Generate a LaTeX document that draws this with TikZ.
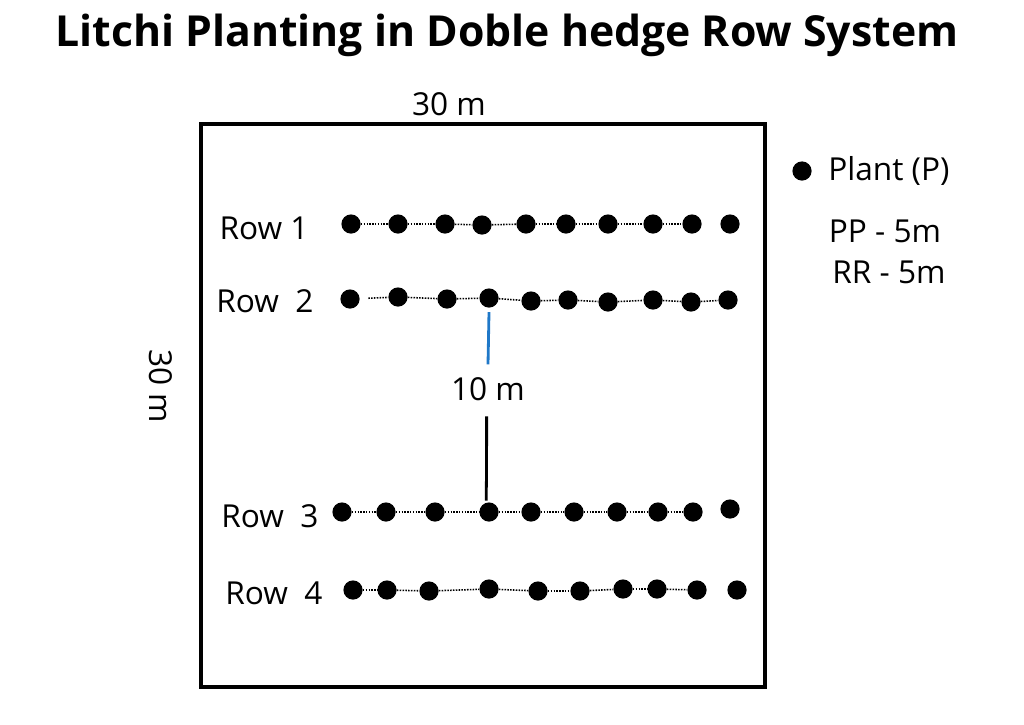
\documentclass[tikz,border=0pt]{standalone}
\usepackage{fontspec}
\setmainfont{Open Sans}
\begin{document}
\begin{tikzpicture}[x=0.025cm,y=-0.025cm,
    plant/.style={circle,fill=black,inner sep=0pt,minimum size=0.48cm},
    hedge/.style={line width=1.1pt,dash pattern=on 1.1pt off 0.9pt},
    txt/.style={font=\fontsize{22.5}{27}\selectfont,inner sep=0pt}]
  \useasboundingbox (0,0) rectangle (1024,724);
  % --- title and field ---
  \node[font=\bfseries\fontsize{30.4}{36}\selectfont] (title) at (507,35) {Litchi Planting in Doble hedge Row System};
  \draw[line width=2.2pt] (201,124) rectangle (765,687);
  \node[txt] (top) at (449,104) {30 m};
  \node[txt,rotate=-90] (side) at (161,386) {30 m};
  % --- row 1 ---
  \node[txt] (l1) at (264,228) {Row 1};
  \foreach \x/\y [count=\i] in {351/224,398/224,445/224,482/225,526/224,566/224,608/224,653/224,692/224,730/224}
    \node[plant] (a\i) at (\x,\y) {};
  \foreach \i [evaluate=\i as \j using int(\i+1)] in {1,...,8} \draw[hedge] (a\i) -- (a\j);
  % --- row 2 ---
  \node[txt] (l2) at (265,301) {Row\ \ 2};
  \foreach \x/\y [count=\i] in {350/299,398/297,447/299,489/298,531/301,568/300,608/302,653/300,691/302,728/300}
    \node[plant] (b\i) at (\x,\y) {};
  \draw[hedge,shorten <=6pt] (b1) -- (b2);
  \foreach \i [evaluate=\i as \j using int(\i+1)] in {2,...,9} \draw[hedge] (b\i) -- (b\j);
  % --- row 3 ---
  \node[txt] (l3) at (270,516) {Row\ \ 3};
  \foreach \x/\y [count=\i] in {342/512,386/512,435/512,489/512,531/512,574/512,617/512,658/512,693/512,730/509}
    \node[plant] (c\i) at (\x,\y) {};
  \foreach \i [evaluate=\i as \j using int(\i+1)] in {1,...,8} \draw[hedge] (c\i) -- (c\j);
  % --- row 4 ---
  \node[txt] (l4) at (274,593) {Row\ \ 4};
  \foreach \x/\y [count=\i] in {353/590,387/590,429/591,489/589,538/591,580/591,623/589,657/589,697/590,737/590}
    \node[plant] (d\i) at (\x,\y) {};
  \foreach \i [evaluate=\i as \j using int(\i+1)] in {1,...,8} \draw[hedge] (d\i) -- (d\j);
  % --- distance between the hedges ---
  \node[txt] (gap) at (488,389) {10 m};
  \draw[line width=2pt,color={rgb,255:red,31;green,120;blue,200}] ([yshift=-3pt]b4.south) -- ([yshift=9pt]gap.north);
  \draw[line width=2pt] ([xshift=-1pt,yshift=-11pt]gap.south) .. controls ([xshift=-1pt,yshift=-45pt]gap.south) .. ([xshift=-2pt,yshift=1pt]c4.north);
  % --- legend ---
  \node[plant] (key) at (802,171) {};
  \node[txt,anchor=west] (keylbl) at (828,171) {Plant (P)};
  \node[txt] (pp) at (885,231) {PP - 5m};
  \node[txt] (rr) at (889,272) {RR - 5m};
\end{tikzpicture}
\end{document}
